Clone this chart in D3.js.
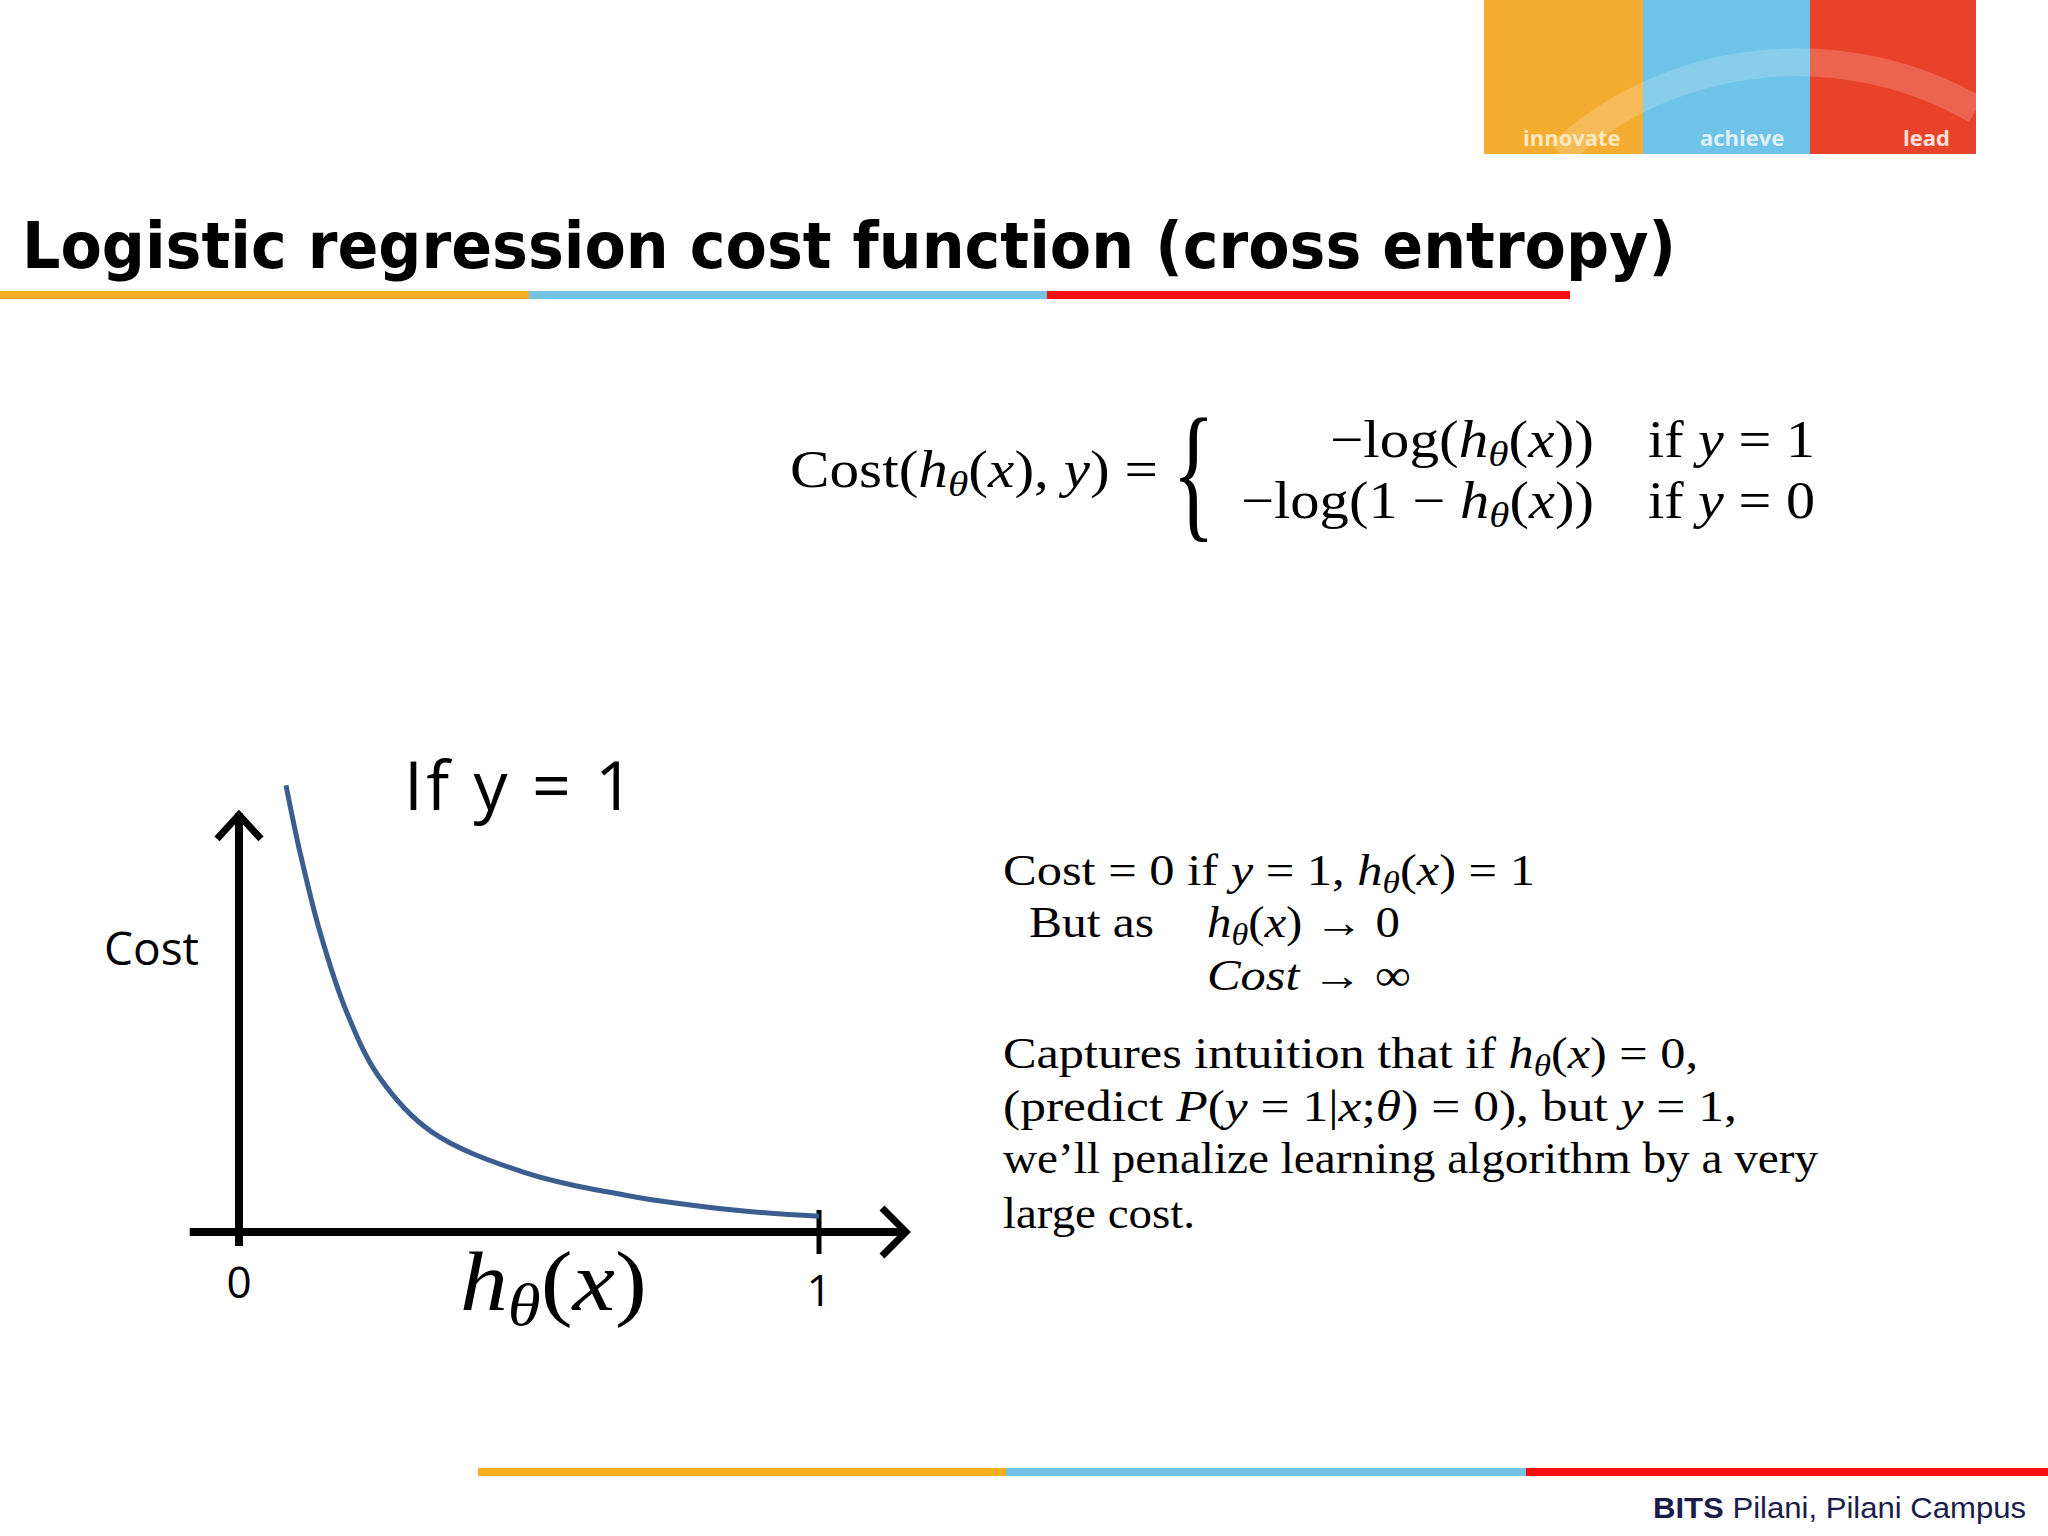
<!DOCTYPE html>
<html><head><meta charset="utf-8">
<script src="https://cdn.jsdelivr.net/npm/d3@7"></script>
<style>body{margin:0;background:#fff}svg{display:block}</style>
</head><body>
<script>
// data: h_theta(x) vs cost (arbitrary cost units)
const hValues = [0.081,0.106,0.140,0.185,0.241,0.331,0.489,0.669,0.849,1.0];
const costValues = [3.36,2.83,2.23,1.63,1.13,0.71,0.40,0.22,0.11,0.06];
const xTicks = ["0","1"];

const W=2048,H=1536;
const svg=d3.select("body").append("svg").attr("width",W).attr("height",H);
const serif="'Liberation Serif','DejaVu Serif',serif";
const sans="'Open Sans','Noto Sans',sans-serif";

// logo
const logo=[["#f4ac31",1484,1643],["#6fc2e8",1643,1810],["#e8432a",1810,1976]];
logo.forEach(([c,a,b])=>{
  svg.append("rect").attr("x",a).attr("y",0).attr("width",b-a).attr("height",154).attr("fill",c);
});
const lg=svg.append("g").attr("opacity",0.18);
lg.append("path").attr("d","M1560,154 A330,300 0 0 1 1976,110").attr("fill","none").attr("stroke","#fff").attr("stroke-width",28);
svg.append("text").attr("x",1523).attr("y",146).attr("font-family",sans).attr("font-weight","bold").attr("font-size",22).attr("fill","#fde9c0").text("innovate");
svg.append("text").attr("x",1700).attr("y",146).attr("font-family",sans).attr("font-weight","bold").attr("font-size",22).attr("fill","#dff2fb").text("achieve");
svg.append("text").attr("x",1903).attr("y",146).attr("font-family",sans).attr("font-weight","bold").attr("font-size",22).attr("fill","#fde0d8").text("lead");

// title
svg.append("text").attr("x",22).attr("y",268).attr("font-family","'DejaVu Sans',Verdana,sans-serif").attr("font-weight","bold")
  .attr("font-size",64).attr("textLength",1654).attr("lengthAdjust","spacingAndGlyphs").text("Logistic regression cost function (cross entropy)");
[["#f7ae22",0,529],["#74c2e6",529,1047],["#f90d0d",1047,1570]].forEach(([c,a,b])=>svg.append("rect").attr("x",a).attr("y",291).attr("width",b-a).attr("height",8).attr("fill",c));
[["#f7ae22",478,1006],["#74c2e6",1006,1526],["#f90d0d",1526,2048]].forEach(([c,a,b])=>svg.append("rect").attr("x",a).attr("y",1468).attr("width",b-a).attr("height",8).attr("fill",c));

// footer
const ft=svg.append("text").attr("x",2026).attr("y",1518).attr("text-anchor","end").attr("font-family","'Liberation Sans',Arial,sans-serif").attr("font-size",30).attr("fill","#1c1c4a").attr("textLength",373).attr("lengthAdjust","spacingAndGlyphs");
ft.append("tspan").attr("font-weight","bold").text("BITS");
ft.append("tspan").text(" Pilani, Pilani Campus");

function mtext(x,y,size,parts,anchor,len){
  const t=svg.append("text").attr("x",x).attr("y",y).attr("font-family",serif).attr("font-size",size).attr("text-anchor",anchor||"start");
  if(len) t.attr("textLength",len).attr("lengthAdjust","spacingAndGlyphs");
  parts.forEach(([s,st])=>{
    const sp=t.append("tspan").text(s);
    if(st==="i") sp.attr("font-style","italic");
    if(st==="s") sp.attr("font-style","italic").attr("font-size",size*0.7).attr("dy",size*0.18);
    if(st==="u") sp.attr("dy",-size*0.18);
  });
  return t;
}
const hx=[["h","i"],["θ","s"],["(","u"],["x","i"],[")","n"]];
// formula
const FS=52;
mtext(790,487,FS,[["Cost(","n"],...hx,[", ","n"],["y","i"],[") =","n"]],"start",368);
svg.append("text").attr("x",1172).attr("y",522).attr("font-family",serif).attr("font-size",150).attr("font-weight",100).attr("transform","scale(0.6,1)").attr("transform-origin","1172 522").text("{");
mtext(1594,457,FS,[["−log(","n"],...hx,[")","n"]],"end",264);
mtext(1594,518,FS,[["−log(1 − ","n"],...hx,[")","n"]],"end",353);
mtext(1648,457,FS,[["if ","n"],["y","i"],[" = 1","n"]],"start",167);
mtext(1648,518,FS,[["if ","n"],["y","i"],[" = 0","n"]],"start",167);

// chart
const x=d3.scaleLinear().domain([0,1]).range([239,819]);
const y=d3.scaleLinear().domain([0,3.36]).range([1232,793]);
const ax=svg.append("g").attr("stroke","#000").attr("stroke-width",8).attr("fill","none").attr("stroke-linecap","butt");
ax.append("line").attr("x1",x(0)).attr("x2",x(0)).attr("y1",y(0)+14).attr("y2",y(3.1)-14);
ax.append("path").attr("d",`M${x(0)-22},${y(3.1)+12} L${x(0)},${y(3.1)-12} L${x(0)+22},${y(3.1)+12}`).attr("stroke-width",7);
ax.append("line").attr("x1",x(-0.085)).attr("x2",x(1.15)).attr("y1",y(0)).attr("y2",y(0));
ax.append("path").attr("d",`M${x(1.15)-24},${y(0)-24} L${x(1.15)},${y(0)} L${x(1.15)-24},${y(0)+24}`).attr("stroke-width",7);
ax.append("line").attr("x1",x(1)).attr("x2",x(1)).attr("y1",y(0)-22).attr("y2",y(0)+22).attr("stroke-width",5);
const pts=hValues.map((h,i)=>[h,costValues[i]]);
svg.append("path").datum(pts).attr("fill","none").attr("stroke","#3b5d8f").attr("stroke-width",5)
  .attr("d",d3.line().x(d=>x(d[0])).y(d=>y(d[1]+0.06)).curve(d3.curveCatmullRom.alpha(0.5)));
xTicks.forEach((t,i)=>svg.append("text").attr("x",x(i)).attr("y",i?1306:1298).attr("text-anchor","middle").attr("font-family",sans).attr("font-size",44).text(t));
svg.append("text").attr("x",104).attr("y",965).attr("font-family",sans).attr("font-size",46).text("Cost");
svg.append("text").attr("x",404).attr("y",810).attr("font-family",sans).attr("font-size",68).attr("textLength",230).text("If y = 1");
mtext(460,1310,84,hx,"start",187);

// right text
const L=1003, RS=44;
mtext(L,885,RS,[["Cost = 0 if ","n"],["y","i"],[" = 1, ","n"],...hx,[" = 1","n"]],"start",532);
mtext(L+26,937,RS,[["But as","n"]],"start",125);
mtext(1207,937,RS,[...hx,[" → 0","n"]],"start",193);
mtext(1207,990,RS,[["Cost","i"],[" → ∞","n"]],"start",204);
mtext(L,1068,RS,[["Captures intuition that if ","n"],...hx,[" = 0,","n"]],"start",695);
mtext(L,1121,RS,[["(predict ","n"],["P","i"],["(","n"],["y","i"],[" = 1|","n"],["x","i"],[";","n"],["θ","i"],[") = 0), but ","n"],["y","i"],[" = 1,","n"]],"start",734);
mtext(L,1173,RS,[["we’ll penalize learning algorithm by a very","n"]],"start",815);
mtext(L,1228,RS,[["large cost.","n"]],"start",192);
</script>
</body></html>
